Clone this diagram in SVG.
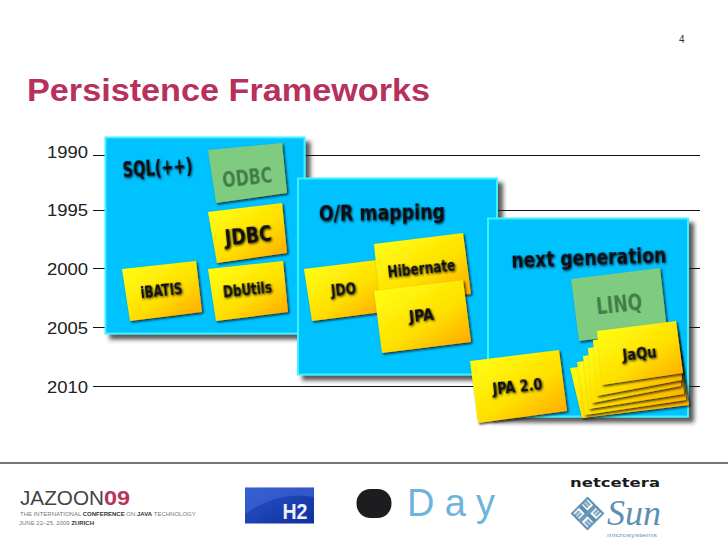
<svg xmlns="http://www.w3.org/2000/svg" width="728" height="546" viewBox="0 0 728 546">
<style>
.year{font:16px "Liberation Sans",Arial,sans-serif;fill:#222}
.tl{stroke:#111;stroke-width:1.2;fill:none}
.panel{fill:#00c2ff;stroke:#3cf2ff;stroke-width:2;filter:url(#ps)}
.note{fill:url(#ng);filter:url(#ns)}
.green{fill:#7fcb80;filter:url(#ns)}
.hand{font-family:"DejaVu Sans Condensed","DejaVu Sans",sans-serif;font-weight:bold;fill:#0c0c14;text-anchor:middle;filter:url(#ts)}
.gt{fill:#3f7d4a;filter:url(#tb)}
</style>
<defs>
<linearGradient id="ng" x1="0.1" y1="0.05" x2="0.95" y2="1"><stop offset="0" stop-color="#ffff10"/><stop offset="0.55" stop-color="#ffdf00"/><stop offset="1" stop-color="#ffa400"/></linearGradient>
<linearGradient id="h2g" x1="0" y1="0" x2="1" y2="1"><stop offset="0" stop-color="#2a55c8"/><stop offset="1" stop-color="#0f2f9e"/></linearGradient>
<filter id="ps" x="-10%" y="-10%" width="125%" height="125%"><feDropShadow dx="5" dy="5" stdDeviation="2" flood-color="#222" flood-opacity="0.75"/></filter>
<filter id="ns" x="-10%" y="-10%" width="125%" height="125%"><feDropShadow dx="1.500" dy="1.500" stdDeviation="0.8" flood-color="#111" flood-opacity="0.85"/></filter>
<filter id="ts" x="-15%" y="-30%" width="130%" height="170%"><feDropShadow dx="0.8" dy="1.200" stdDeviation="1" flood-color="#000" flood-opacity="0.8"/></filter>
<filter id="tb" x="-15%" y="-30%" width="130%" height="170%"><feGaussianBlur stdDeviation="0.6"/></filter>
<filter id="sb"><feGaussianBlur stdDeviation="0.35"/></filter>
</defs>
<rect width="728" height="546" fill="#fff"/>
<text x="679" y="43" font-family="Liberation Sans,sans-serif" font-size="10" fill="#333">4</text>
<text id="title" x="27" y="101" font-family="Liberation Sans,Arial,sans-serif" font-weight="bold" font-size="31" fill="#b8305c" textLength="403" lengthAdjust="spacingAndGlyphs">Persistence Frameworks</text>
<g id="connectors">
<path class="tl" d="M93 155.500H700M93 210.500H700M93 268.500H700M93 327.500H700M93 386.500H700"/>
</g>
<g id="years">
<text class="year" x="47" y="158" textLength="41" lengthAdjust="spacingAndGlyphs">1990</text>
<text class="year" x="47" y="216" textLength="41" lengthAdjust="spacingAndGlyphs">1995</text>
<text class="year" x="47" y="275" textLength="41" lengthAdjust="spacingAndGlyphs">2000</text>
<text class="year" x="47" y="334" textLength="41" lengthAdjust="spacingAndGlyphs">2005</text>
<text class="year" x="47" y="393" textLength="41" lengthAdjust="spacingAndGlyphs">2010</text>
</g>
<g id="panel-sql">
<rect class="panel" x="105.500" y="137.500" width="199" height="196"/>
<text class="hand" transform="translate(158 175) rotate(-4)" font-size="21" textLength="70" lengthAdjust="spacingAndGlyphs">SQL(++)</text>
</g>
<g id="node-odbc"><polygon class="green" points="208,150 282,143 287,193 216,203"/>
<text class="hand gt" transform="translate(248 185) rotate(-6)" font-size="22" textLength="50" lengthAdjust="spacingAndGlyphs">ODBC</text></g>
<g id="node-jdbc"><polygon class="note" points="208,212 282,203 287,253 217,263"/>
<text class="hand" transform="translate(249 243) rotate(-6)" font-size="22" textLength="47" lengthAdjust="spacingAndGlyphs">JDBC</text></g>
<g id="node-ibatis"><polygon class="note" points="122,269 196,261 202,312 130,321"/>
<text class="hand" transform="translate(162 296) rotate(-6)" font-size="15" textLength="42" lengthAdjust="spacingAndGlyphs">iBATIS</text></g>
<g id="node-dbutils"><polygon class="note" points="208,269 283,261 288,312 216,321"/>
<text class="hand" transform="translate(248 295) rotate(-6)" font-size="15" textLength="49" lengthAdjust="spacingAndGlyphs">DbUtils</text></g>
<g id="panel-or">
<rect class="panel" x="298" y="178.500" width="199" height="196"/>
<text class="hand" transform="translate(382 220) rotate(-1)" font-size="21" textLength="126" lengthAdjust="spacingAndGlyphs">O/R mapping</text>
</g>
<g id="node-jdo"><polygon class="note" points="304,269 377,260 383,312 312,321"/>
<text class="hand" transform="translate(344 295) rotate(-6)" font-size="15" textLength="25" lengthAdjust="spacingAndGlyphs">JDO</text></g>
<g id="node-hibernate"><polygon class="note" points="374,244 463,233 471,294 380,303"/>
<text class="hand" transform="translate(422 274) rotate(-6)" font-size="15" textLength="68" lengthAdjust="spacingAndGlyphs">Hibernate</text></g>
<g id="node-jpa"><polygon class="note" points="374,291 463,280 471,342 382,353"/>
<text class="hand" transform="translate(422 321) rotate(-6)" font-size="15" textLength="25" lengthAdjust="spacingAndGlyphs">JPA</text></g>
<g id="panel-next">
<rect class="panel" x="488" y="218.500" width="200" height="198"/>
<text class="hand" transform="translate(589 265) rotate(-2)" font-size="21" textLength="155" lengthAdjust="spacingAndGlyphs">next generation</text>
</g>
<g id="node-linq"><polygon class="green" points="571,279 660,268 667,330 579,341"/>
<text class="hand gt" transform="translate(620 312) rotate(-6)" font-size="23" textLength="46" lengthAdjust="spacingAndGlyphs">LINQ</text></g>
<g id="node-jpa2"><polygon class="note" points="470,361 559,350 567,411 478,423"/>
<text class="hand" transform="translate(518 392) rotate(-6)" font-size="16" textLength="50" lengthAdjust="spacingAndGlyphs">JPA 2.0</text></g>
<g id="node-jaqu">
<polygon class="note" points="570,368 680,354 689,405 582,418"/>
<polygon class="note" points="577,362 680,349 686,400 585,415"/>
<polygon class="note" points="583,356 678,344 684,394 589,409"/>
<polygon class="note" points="588,348 678,337 681,386 592,403"/>
<polygon class="note" points="593,340 677,329 682,380 597,396"/>
<polygon class="note" points="597,331 676,321 683,373 602,385"/>
<text class="hand" transform="translate(640 359) rotate(-6)" font-size="15" textLength="34" lengthAdjust="spacingAndGlyphs">JaQu</text>
</g>
<rect id="rule" x="0" y="462" width="728" height="2" fill="#777"/>
<g id="logo-jazoon">
<text x="20" y="505" font-family="Liberation Sans,sans-serif" font-size="21" fill="#444" textLength="84" lengthAdjust="spacingAndGlyphs">JAZOON</text>
<text x="104" y="505" font-family="Liberation Sans,sans-serif" font-weight="bold" font-size="21" fill="#b8335c" textLength="26" lengthAdjust="spacingAndGlyphs">09</text>
<text x="20" y="516" font-family="Liberation Sans,sans-serif" font-size="6" fill="#777">THE INTERNATIONAL <tspan font-weight="bold" fill="#333">CONFERENCE</tspan> ON <tspan font-weight="bold" fill="#333">JAVA</tspan> TECHNOLOGY</text>
<text x="19" y="524.500" font-family="Liberation Sans,sans-serif" font-size="6" fill="#777">JUNE 22–25, 2009 <tspan font-weight="bold" fill="#333">ZURICH</tspan></text>
</g>
<g id="logo-h2">
<rect x="245" y="487.500" width="69" height="36" fill="url(#h2g)"/>
<path d="M245 514Q280 490 314 497V488H245Z" fill="#3f68d8" opacity=".6"/>
<text x="295" y="519" text-anchor="middle" font-family="Liberation Sans,sans-serif" font-weight="bold" font-size="22" fill="#eef" textLength="25" lengthAdjust="spacingAndGlyphs">H2</text>
</g>
<g id="logo-day">
<rect x="356.500" y="489" width="35" height="29" rx="14" fill="#1d1d1f"/>
<text x="407" y="516" font-family="Liberation Sans,sans-serif" font-size="38" fill="#6fb3dc" textLength="88" lengthAdjust="spacing">Day</text>
</g>
<g id="logo-netcetera">
<text x="570" y="487" font-family="DejaVu Sans,sans-serif" font-weight="bold" font-size="13" fill="#1a1a1a" textLength="90" lengthAdjust="spacingAndGlyphs">netcetera</text>
</g>
<g id="logo-sun">
<g transform="translate(587.500 513.500) rotate(45)" fill="none" stroke="#5d8fb3" stroke-width="1.800" filter="url(#sb)">
<path d="M-11 -11H-1V-1H-11ZM-11 -7.500H-4M-11 -4.500H-4"/>
<path d="M1 -11H11V-1H1ZM4.500 -11V-4M7.500 -11V-4"/>
<path d="M1 1H11V11H1ZM4 7.500H11M4 4.500H11"/>
<path d="M-11 1H-1V11H-11ZM-7.500 4V11M-4.500 4V11"/>
</g>
<text x="607" y="525" font-family="Liberation Serif,serif" font-style="italic" font-size="36" fill="#5d8fb3" textLength="54" lengthAdjust="spacingAndGlyphs">Sun</text>
<text x="607" y="537" font-family="Liberation Sans,sans-serif" font-size="6" fill="#6a97b8" textLength="50" lengthAdjust="spacingAndGlyphs">microsystems</text>
</g>
</svg>
